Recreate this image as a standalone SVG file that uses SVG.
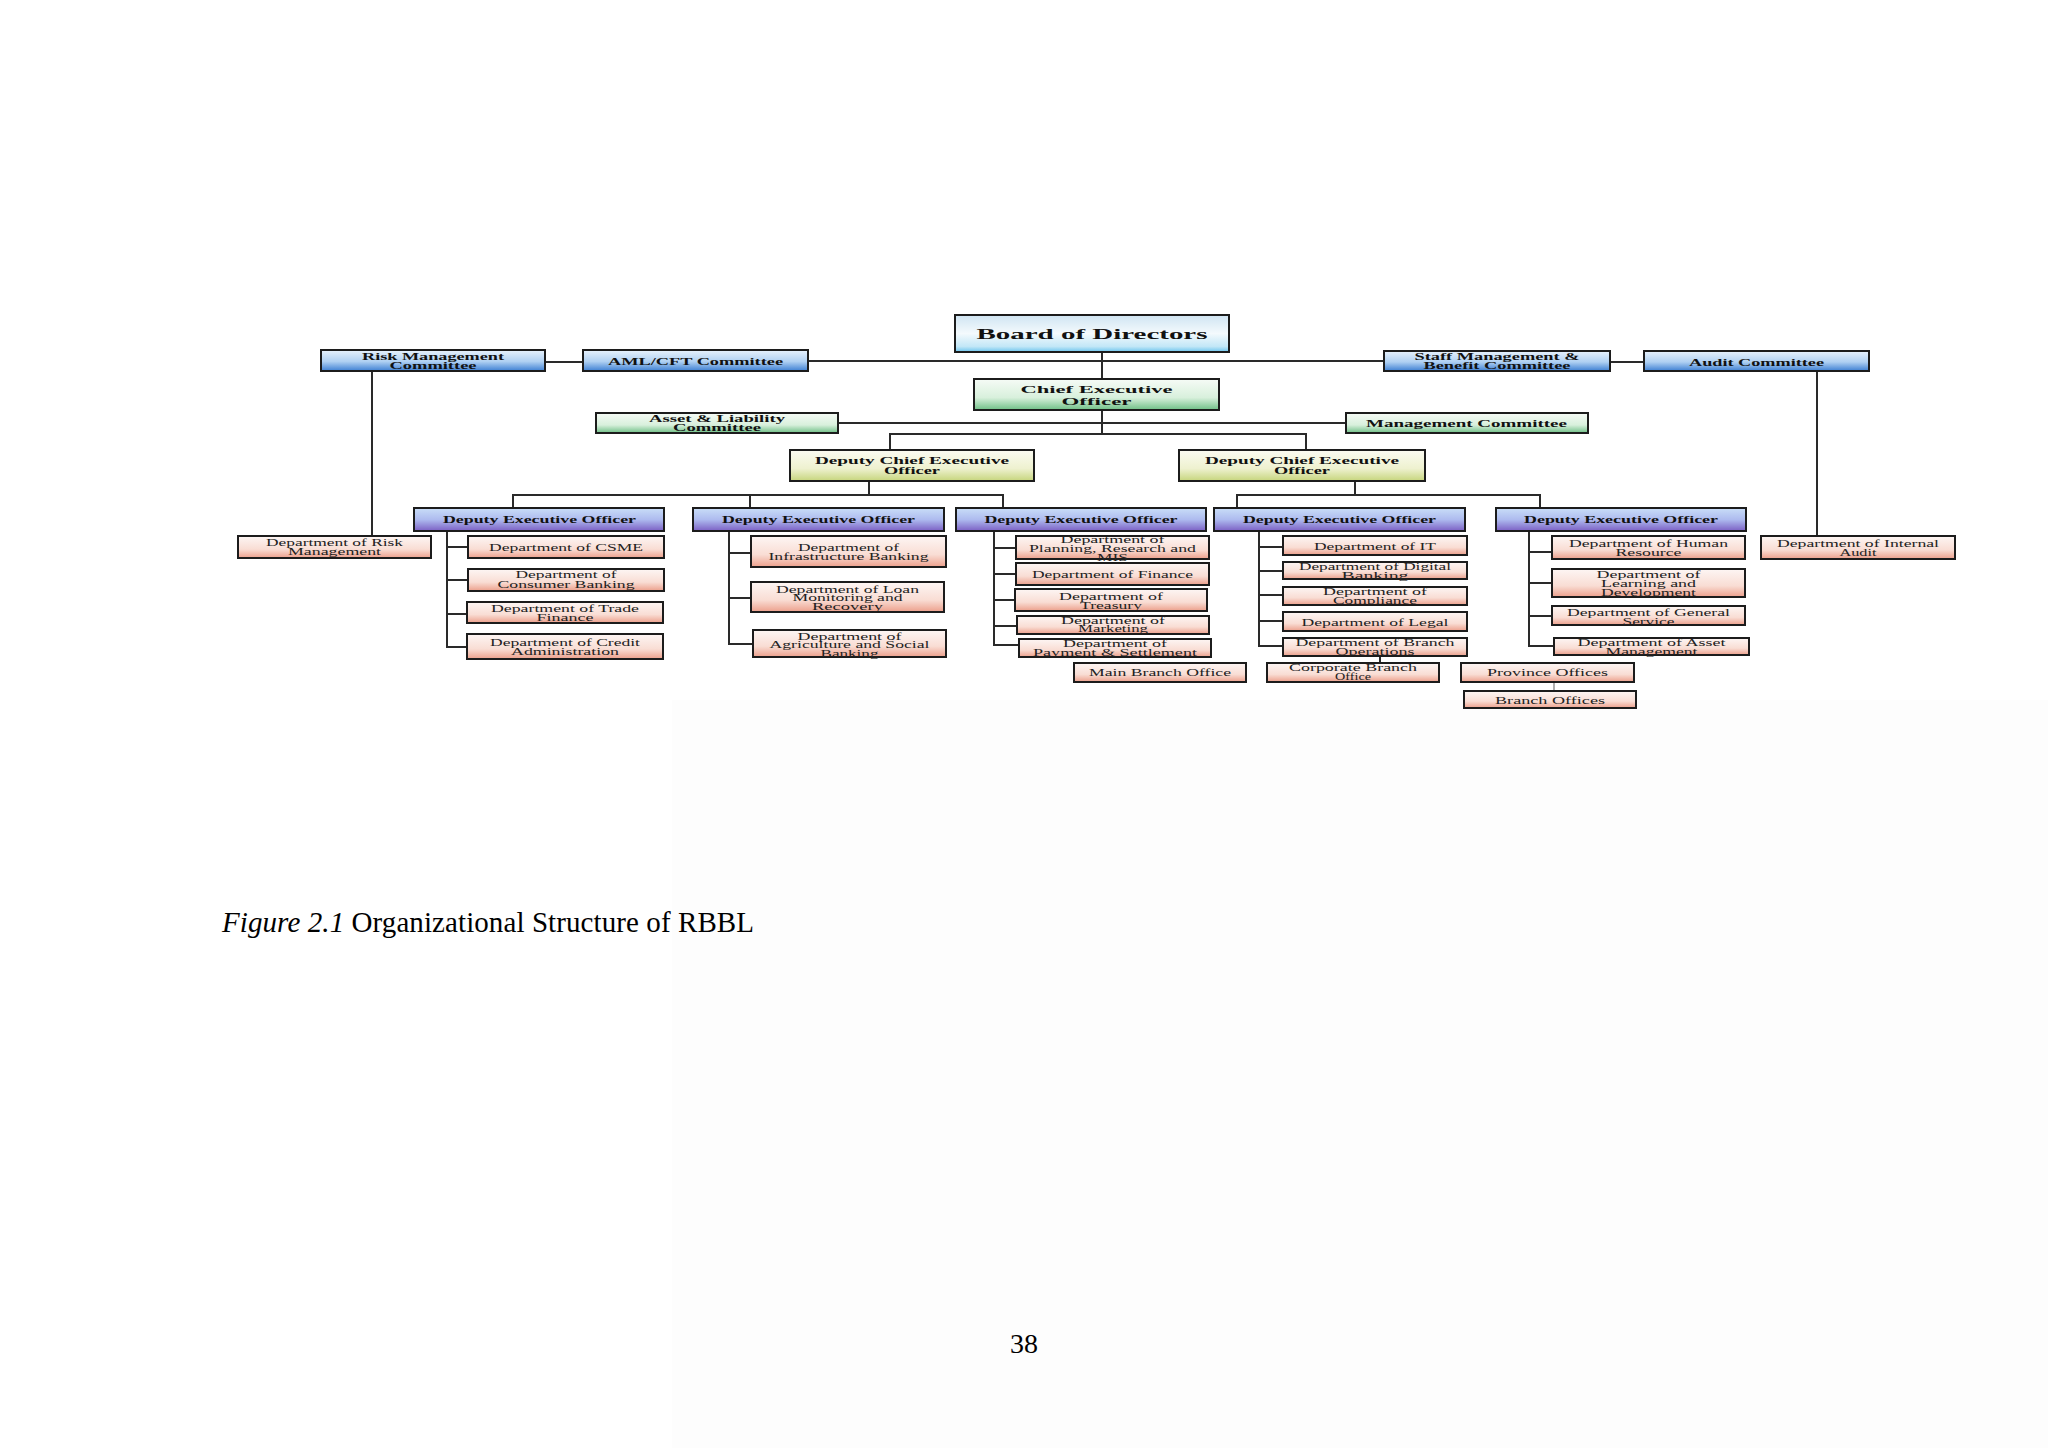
<svg xmlns="http://www.w3.org/2000/svg" width="2048" height="1448" viewBox="0 0 2048 1448">
<defs>
<linearGradient id="gBlue" x1="0" y1="0" x2="0" y2="1"><stop offset="0" stop-color="#e8f2fc"/><stop offset="0.55" stop-color="#afd0f2"/><stop offset="1" stop-color="#3d7fd3"/></linearGradient>
<linearGradient id="gBoard" x1="0" y1="0" x2="0" y2="1"><stop offset="0" stop-color="#cfe4f2"/><stop offset="0.5" stop-color="#f4fafd"/><stop offset="0.85" stop-color="#c2e7f7"/><stop offset="1" stop-color="#6cc5ee"/></linearGradient>
<linearGradient id="gGreen" x1="0" y1="0" x2="0" y2="1"><stop offset="0" stop-color="#f6fbf6"/><stop offset="0.6" stop-color="#d8f0dc"/><stop offset="1" stop-color="#6fbf86"/></linearGradient>
<linearGradient id="gYellow" x1="0" y1="0" x2="0" y2="1"><stop offset="0" stop-color="#fbfbf2"/><stop offset="0.6" stop-color="#eef1cf"/><stop offset="1" stop-color="#c6d57c"/></linearGradient>
<linearGradient id="gPurple" x1="0" y1="0" x2="0" y2="1"><stop offset="0" stop-color="#c9def8"/><stop offset="0.5" stop-color="#aebbef"/><stop offset="1" stop-color="#7b5fc4"/></linearGradient>
<linearGradient id="gPink" x1="0" y1="0" x2="0" y2="1"><stop offset="0" stop-color="#fdf6f4"/><stop offset="0.6" stop-color="#f9ddd4"/><stop offset="1" stop-color="#ec9f8b"/></linearGradient>
</defs>
<style>
.box{stroke:#1c1c1c;stroke-width:2}
.blue{fill:url(#gBlue)}.board{fill:url(#gBoard)}.green{fill:url(#gGreen)}.yellow{fill:url(#gYellow)}.purple{fill:url(#gPurple)}.pink{fill:url(#gPink)}
.b{font-family:"Liberation Serif","Times New Roman",serif;font-weight:bold;font-size:10.5px;fill:#111;text-anchor:middle}
.d{font-family:"Liberation Serif","Times New Roman",serif;font-size:10.5px;fill:#222;text-anchor:middle}
.conn line{stroke:#2a2a2a;stroke-width:2}
.cap{font-family:"Liberation Serif","Times New Roman",serif;font-size:29px;fill:#000}
</style>
<rect width="2048" height="1448" fill="#ffffff"/>
<rect x="672" y="700" width="1376" height="748" fill="#fdfdfd"/>

<g id="connectors" class="conn">
<line x1="545" y1="362" x2="583" y2="362"/>
<line x1="808" y1="361" x2="1384" y2="361"/>
<line x1="1610" y1="362" x2="1644" y2="362"/>
<line x1="1102" y1="352" x2="1102" y2="379"/>
<line x1="372" y1="371" x2="372" y2="536"/>
<line x1="1817" y1="371" x2="1817" y2="536"/>
<line x1="1102" y1="410" x2="1102" y2="434"/>
<line x1="838" y1="423" x2="1346" y2="423"/>
<line x1="889" y1="434" x2="1307" y2="434"/>
<line x1="890" y1="434" x2="890" y2="450"/>
<line x1="1306" y1="434" x2="1306" y2="450"/>
<line x1="869" y1="481" x2="869" y2="495"/>
<line x1="512" y1="495" x2="1004" y2="495"/>
<line x1="513" y1="495" x2="513" y2="508"/>
<line x1="750" y1="495" x2="750" y2="508"/>
<line x1="1003" y1="495" x2="1003" y2="508"/>
<line x1="1355" y1="481" x2="1355" y2="495"/>
<line x1="1236" y1="495" x2="1541" y2="495"/>
<line x1="1237" y1="495" x2="1237" y2="508"/>
<line x1="1540" y1="495" x2="1540" y2="508"/>
<line x1="447" y1="531" x2="447" y2="648"/>
<line x1="446" y1="547" x2="468" y2="547"/>
<line x1="446" y1="580" x2="468" y2="580"/>
<line x1="446" y1="614" x2="467" y2="614"/>
<line x1="446" y1="647" x2="467" y2="647"/>
<line x1="729" y1="531" x2="729" y2="645"/>
<line x1="728" y1="553" x2="751" y2="553"/>
<line x1="728" y1="598" x2="751" y2="598"/>
<line x1="728" y1="644" x2="753" y2="644"/>
<line x1="994" y1="531" x2="994" y2="646"/>
<line x1="993" y1="548" x2="1016" y2="548"/>
<line x1="993" y1="574" x2="1016" y2="574"/>
<line x1="993" y1="600" x2="1015" y2="600"/>
<line x1="993" y1="626" x2="1017" y2="626"/>
<line x1="993" y1="645" x2="1019" y2="645"/>
<line x1="1259" y1="531" x2="1259" y2="647"/>
<line x1="1258" y1="547" x2="1283" y2="547"/>
<line x1="1258" y1="571" x2="1283" y2="571"/>
<line x1="1258" y1="595" x2="1283" y2="595"/>
<line x1="1258" y1="621" x2="1283" y2="621"/>
<line x1="1258" y1="646" x2="1283" y2="646"/>
<line x1="1529" y1="531" x2="1529" y2="647"/>
<line x1="1528" y1="552" x2="1552" y2="552"/>
<line x1="1528" y1="583" x2="1552" y2="583"/>
<line x1="1528" y1="616" x2="1552" y2="616"/>
<line x1="1528" y1="646" x2="1554" y2="646"/>
<line x1="1380" y1="656" x2="1380" y2="663"/>
<line x1="1554" y1="682" x2="1554" y2="691" style="stroke:#777;stroke-width:1.2"/>
</g>

<g id="risk-committee"><rect class="box blue" x="321" y="350" width="224" height="21"/><text class="b" x="433" y="359.5" textLength="142" lengthAdjust="spacingAndGlyphs">Risk Management</text><text class="b" x="433" y="368.5" textLength="87" lengthAdjust="spacingAndGlyphs">Committee</text></g>
<g id="aml-cft-committee"><rect class="box blue" x="583" y="350" width="225" height="21"/><text class="b" x="695.5" y="365" textLength="175" lengthAdjust="spacingAndGlyphs">AML/CFT Committee</text></g>
<g id="staff-committee"><rect class="box blue" x="1384" y="351" width="226" height="20"/><text class="b" x="1497" y="360" textLength="165" lengthAdjust="spacingAndGlyphs">Staff  Management &amp;</text><text class="b" x="1497" y="368.5" textLength="147" lengthAdjust="spacingAndGlyphs">Benefit Committee</text></g>
<g id="audit-committee"><rect class="box blue" x="1644" y="351" width="225" height="20"/><text class="b" x="1756.5" y="365.5" textLength="135" lengthAdjust="spacingAndGlyphs">Audit Committee</text></g>
<g id="board"><rect class="box board" x="955" y="315" width="274" height="37"/><text class="b" x="1092" y="339" style="font-size:15px" textLength="231" lengthAdjust="spacingAndGlyphs">Board of Directors</text></g>
<g id="ceo"><rect class="box green" x="974" y="379" width="245" height="31"/><text class="b" x="1096.5" y="393" style="font-size:11px" textLength="152" lengthAdjust="spacingAndGlyphs">Chief Executive</text><text class="b" x="1096.5" y="404.5" style="font-size:11px" textLength="70" lengthAdjust="spacingAndGlyphs">Officer</text></g>
<g id="alco"><rect class="box green" x="596" y="413" width="242" height="20"/><text class="b" x="717" y="422" textLength="136" lengthAdjust="spacingAndGlyphs">Asset &amp; Liability</text><text class="b" x="717" y="431" textLength="88" lengthAdjust="spacingAndGlyphs">Committee</text></g>
<g id="management-committee"><rect class="box green" x="1346" y="413" width="242" height="20"/><text class="b" x="1466.5" y="427" textLength="201" lengthAdjust="spacingAndGlyphs">Management Committee</text></g>
<g id="dceo-left"><rect class="box yellow" x="790" y="450" width="244" height="31"/><text class="b" x="912" y="464" textLength="194" lengthAdjust="spacingAndGlyphs">Deputy Chief Executive</text><text class="b" x="912" y="473.5" textLength="56" lengthAdjust="spacingAndGlyphs">Officer</text></g>
<g id="dceo-right"><rect class="box yellow" x="1179" y="450" width="246" height="31"/><text class="b" x="1302" y="464" textLength="194" lengthAdjust="spacingAndGlyphs">Deputy Chief Executive</text><text class="b" x="1302" y="473.5" textLength="56" lengthAdjust="spacingAndGlyphs">Officer</text></g>
<g id="deo-1"><rect class="box purple" x="414" y="508" width="250" height="23"/><text class="b" x="539.5" y="523" textLength="193" lengthAdjust="spacingAndGlyphs">Deputy Executive Officer</text></g>
<g id="deo-2"><rect class="box purple" x="693" y="508" width="251" height="23"/><text class="b" x="818.5" y="523" textLength="193" lengthAdjust="spacingAndGlyphs">Deputy Executive Officer</text></g>
<g id="deo-3"><rect class="box purple" x="956" y="508" width="250" height="23"/><text class="b" x="1081" y="523" textLength="193" lengthAdjust="spacingAndGlyphs">Deputy Executive Officer</text></g>
<g id="deo-4"><rect class="box purple" x="1214" y="508" width="251" height="23"/><text class="b" x="1339.5" y="523" textLength="193" lengthAdjust="spacingAndGlyphs">Deputy Executive Officer</text></g>
<g id="deo-5"><rect class="box purple" x="1496" y="508" width="250" height="23"/><text class="b" x="1621" y="523" textLength="194" lengthAdjust="spacingAndGlyphs">Deputy Executive Officer</text></g>

<g id="dept-risk"><rect class="box pink" x="238" y="536" width="193" height="22"/><text class="d" x="334.5" y="545.5" textLength="137" lengthAdjust="spacingAndGlyphs">Department of Risk</text><text class="d" x="334.5" y="555" textLength="93" lengthAdjust="spacingAndGlyphs">Management</text></g>
<g id="dept-csme"><rect class="box pink" x="468" y="536" width="196" height="22"/><text class="d" x="566" y="550.5" textLength="154" lengthAdjust="spacingAndGlyphs">Department of CSME</text></g>
<g id="dept-consumer"><rect class="box pink" x="468" y="569" width="196" height="22"/><text class="d" x="566" y="577.5" textLength="101" lengthAdjust="spacingAndGlyphs">Department of</text><text class="d" x="566" y="587.5" textLength="137" lengthAdjust="spacingAndGlyphs">Consumer Banking</text></g>
<g id="dept-trade"><rect class="box pink" x="467" y="602" width="196" height="21"/><text class="d" x="565" y="611.5" textLength="148" lengthAdjust="spacingAndGlyphs">Department of Trade</text><text class="d" x="565" y="620.5" textLength="57" lengthAdjust="spacingAndGlyphs">Finance</text></g>
<g id="dept-credit"><rect class="box pink" x="467" y="634" width="196" height="25"/><text class="d" x="565" y="645.5" textLength="150" lengthAdjust="spacingAndGlyphs">Department of Credit</text><text class="d" x="565" y="654.5" textLength="108" lengthAdjust="spacingAndGlyphs">Administration</text></g>
<g id="dept-infra"><rect class="box pink" x="751" y="536" width="195" height="31"/><text class="d" x="848.5" y="550.5" textLength="101" lengthAdjust="spacingAndGlyphs">Department of</text><text class="d" x="848.5" y="559.5" textLength="160" lengthAdjust="spacingAndGlyphs">Infrastructure Banking</text></g>
<g id="dept-loan"><rect class="box pink" x="751" y="582" width="193" height="30"/><text class="d" x="847.5" y="592.5" textLength="143" lengthAdjust="spacingAndGlyphs">Department of Loan</text><text class="d" x="847.5" y="600.5" textLength="110" lengthAdjust="spacingAndGlyphs">Monitoring  and</text><text class="d" x="847.5" y="609.5" textLength="71" lengthAdjust="spacingAndGlyphs">Recovery</text></g>
<g id="dept-agri"><rect class="box pink" x="753" y="630" width="193" height="27"/><text class="d" x="849.5" y="639.5" textLength="104" lengthAdjust="spacingAndGlyphs">Department of</text><text class="d" x="849.5" y="647.5" textLength="160" lengthAdjust="spacingAndGlyphs">Agriculture  and Social</text><text class="d" x="849.5" y="656.5" textLength="58" lengthAdjust="spacingAndGlyphs">Banking</text></g>
<g id="dept-planning"><rect class="box pink" x="1016" y="536" width="193" height="23"/><text class="d" x="1112.5" y="542.5" textLength="104" lengthAdjust="spacingAndGlyphs">Department of</text><text class="d" x="1112.5" y="551.5" textLength="167" lengthAdjust="spacingAndGlyphs">Planning,  Research and</text><text class="d" x="1112.5" y="560.5" textLength="31" lengthAdjust="spacingAndGlyphs">MIS</text></g>
<g id="dept-finance"><rect class="box pink" x="1016" y="563" width="193" height="22"/><text class="d" x="1112.5" y="577.5" textLength="161" lengthAdjust="spacingAndGlyphs">Department of Finance</text></g>
<g id="dept-treasury"><rect class="box pink" x="1015" y="589" width="192" height="22"/><text class="d" x="1111" y="599.5" textLength="104" lengthAdjust="spacingAndGlyphs">Department of</text><text class="d" x="1111" y="608.5" textLength="62" lengthAdjust="spacingAndGlyphs">Treasury</text></g>
<g id="dept-marketing"><rect class="box pink" x="1017" y="616" width="192" height="18"/><text class="d" x="1113" y="623.5" textLength="104" lengthAdjust="spacingAndGlyphs">Department of</text><text class="d" x="1113" y="632" textLength="70" lengthAdjust="spacingAndGlyphs">Marketing</text></g>
<g id="dept-payment"><rect class="box pink" x="1019" y="639" width="192" height="18"/><text class="d" x="1115" y="647" textLength="104" lengthAdjust="spacingAndGlyphs">Department of</text><text class="d" x="1115" y="656" textLength="164" lengthAdjust="spacingAndGlyphs">Payment &amp; Settlement</text></g>
<g id="main-branch-office"><rect class="box pink" x="1074" y="663" width="172" height="19"/><text class="d" x="1160" y="676" textLength="142" lengthAdjust="spacingAndGlyphs">Main Branch Office</text></g>
<g id="dept-it"><rect class="box pink" x="1283" y="536" width="184" height="19"/><text class="d" x="1375" y="549.5" textLength="122" lengthAdjust="spacingAndGlyphs">Department of IT</text></g>
<g id="dept-digital"><rect class="box pink" x="1283" y="562" width="184" height="17"/><text class="d" x="1375" y="569.5" textLength="152" lengthAdjust="spacingAndGlyphs">Department of Digital</text><text class="d" x="1375" y="578.5" textLength="67" lengthAdjust="spacingAndGlyphs">Banking</text></g>
<g id="dept-compliance"><rect class="box pink" x="1283" y="587" width="184" height="18"/><text class="d" x="1375" y="594.5" textLength="104" lengthAdjust="spacingAndGlyphs">Department of</text><text class="d" x="1375" y="603.5" textLength="84" lengthAdjust="spacingAndGlyphs">Compliance</text></g>
<g id="dept-legal"><rect class="box pink" x="1283" y="612" width="184" height="19"/><text class="d" x="1375" y="625.5" textLength="147" lengthAdjust="spacingAndGlyphs">Department of Legal</text></g>
<g id="dept-branch-ops"><rect class="box pink" x="1283" y="638" width="184" height="18"/><text class="d" x="1375" y="645.5" textLength="159" lengthAdjust="spacingAndGlyphs">Department of Branch</text><text class="d" x="1375" y="654.5" textLength="79" lengthAdjust="spacingAndGlyphs">Operations</text></g>
<g id="corporate-branch"><rect class="box pink" x="1267" y="663" width="172" height="19"/><text class="d" x="1353" y="670.5" textLength="128" lengthAdjust="spacingAndGlyphs">Corporate Branch</text><text class="d" x="1353" y="679.5" textLength="36" lengthAdjust="spacingAndGlyphs">Office</text></g>
<g id="province-offices"><rect class="box pink" x="1461" y="663" width="173" height="19"/><text class="d" x="1547.5" y="676" textLength="121" lengthAdjust="spacingAndGlyphs">Province Offices</text></g>
<g id="branch-offices"><rect class="box pink" x="1464" y="691" width="172" height="17"/><text class="d" x="1550" y="703.5" textLength="110" lengthAdjust="spacingAndGlyphs">Branch Offices</text></g>
<g id="dept-hr"><rect class="box pink" x="1552" y="536" width="193" height="23"/><text class="d" x="1648.5" y="546.5" textLength="159" lengthAdjust="spacingAndGlyphs">Department of Human</text><text class="d" x="1648.5" y="555.5" textLength="66" lengthAdjust="spacingAndGlyphs">Resource</text></g>
<g id="dept-learning"><rect class="box pink" x="1552" y="569" width="193" height="28"/><text class="d" x="1648.5" y="577.5" textLength="104" lengthAdjust="spacingAndGlyphs">Department of</text><text class="d" x="1648.5" y="586.5" textLength="95" lengthAdjust="spacingAndGlyphs">Learning  and</text><text class="d" x="1648.5" y="595.5" textLength="95" lengthAdjust="spacingAndGlyphs">Development</text></g>
<g id="dept-general"><rect class="box pink" x="1552" y="606" width="193" height="19"/><text class="d" x="1648.5" y="615.5" textLength="163" lengthAdjust="spacingAndGlyphs">Department of General</text><text class="d" x="1648.5" y="624.5" textLength="52" lengthAdjust="spacingAndGlyphs">Service</text></g>
<g id="dept-asset"><rect class="box pink" x="1554" y="638" width="195" height="17"/><text class="d" x="1651.5" y="645.5" textLength="148" lengthAdjust="spacingAndGlyphs">Department of Asset</text><text class="d" x="1651.5" y="654.5" textLength="92" lengthAdjust="spacingAndGlyphs">Management</text></g>
<g id="dept-internal-audit"><rect class="box pink" x="1761" y="536" width="194" height="23"/><text class="d" x="1858" y="546.5" textLength="162" lengthAdjust="spacingAndGlyphs">Department of Internal</text><text class="d" x="1858" y="555.5" textLength="37" lengthAdjust="spacingAndGlyphs">Audit</text></g>

<text class="cap" x="222" y="932" textLength="532" lengthAdjust="spacing"><tspan font-style="italic">Figure 2.1</tspan> Organizational Structure of RBBL</text>
<text class="cap" x="1024" y="1353" text-anchor="middle" style="font-size:28px">38</text>
</svg>
